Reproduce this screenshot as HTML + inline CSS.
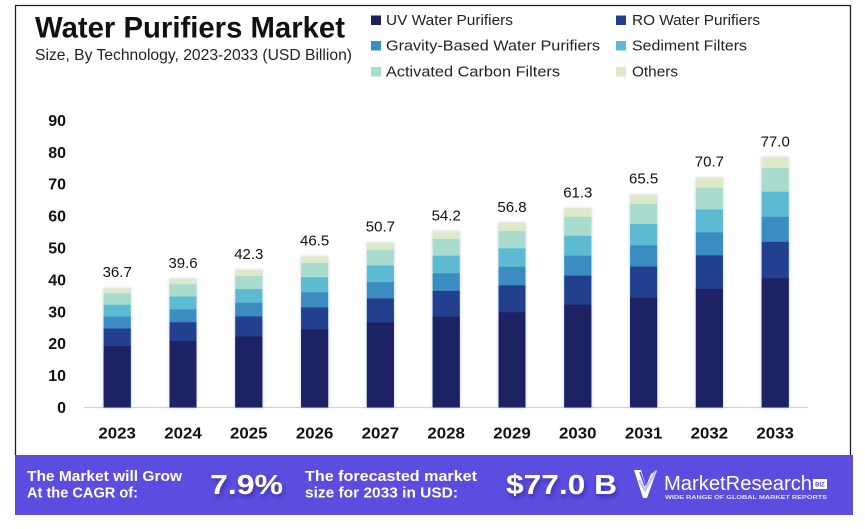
<!DOCTYPE html>
<html>
<head>
<meta charset="utf-8">
<style>
  html, body { margin:0; padding:0; background:#fff; }
  svg { display:block; }
  text { font-family: "Liberation Sans", "DejaVu Sans", sans-serif; }
</style>
</head>
<body>
<svg width="865" height="529" viewBox="0 0 865 529" xmlns="http://www.w3.org/2000/svg">
  <defs>
    <filter id="barsh" x="-30%" y="-10%" width="160%" height="120%">
      <feDropShadow dx="0" dy="0" stdDeviation="1.6" flood-color="#8a94c8" flood-opacity="0.45"/>
    </filter>
    <filter id="txtsh" x="-20%" y="-30%" width="140%" height="170%">
      <feDropShadow dx="1.5" dy="3" stdDeviation="2" flood-color="#2a1d7a" flood-opacity="0.6"/>
    </filter>
  </defs>
  <rect x="0" y="0" width="865" height="529" fill="#ffffff"/>

  <!-- frame -->
  <path d="M15.5 455 V5.5 H850.5 V455" fill="none" stroke="#1e1e1e" stroke-width="1.3"/>

  <!-- title -->
  <text x="35" y="37.5" font-size="30" font-weight="bold" fill="#111" textLength="310" lengthAdjust="spacingAndGlyphs">Water Purifiers Market</text>
  <text x="35" y="60" font-size="16" fill="#222" textLength="317" lengthAdjust="spacingAndGlyphs">Size, By Technology, 2023-2033 (USD Billion)</text>

  <!-- legend -->
  <g font-size="15" fill="#222">
    <rect x="371" y="15.5" width="10" height="9.5" fill="#1b2264"/>
    <text x="386" y="25" textLength="127" lengthAdjust="spacingAndGlyphs">UV Water Purifiers</text>
    <rect x="371" y="41" width="10" height="9.5" fill="#3b8dc1"/>
    <text x="386" y="50.5" textLength="214" lengthAdjust="spacingAndGlyphs">Gravity-Based Water Purifiers</text>
    <rect x="371" y="67" width="10" height="9.5" fill="#a9dccf"/>
    <text x="386" y="76.5" textLength="174" lengthAdjust="spacingAndGlyphs">Activated Carbon Filters</text>

    <rect x="616" y="15.5" width="10" height="9.5" fill="#243f8e"/>
    <text x="632" y="25" textLength="128" lengthAdjust="spacingAndGlyphs">RO Water Purifiers</text>
    <rect x="616" y="41" width="10" height="9.5" fill="#5cbbd3"/>
    <text x="632" y="50.5" textLength="115" lengthAdjust="spacingAndGlyphs">Sediment Filters</text>
    <rect x="616" y="67" width="10" height="9.5" fill="#dde9c8"/>
    <text x="632" y="76.5" textLength="46" lengthAdjust="spacingAndGlyphs">Others</text>
  </g>

  <!-- y axis labels -->
  <g font-size="16" font-weight="bold" fill="#111" text-anchor="end">
    <text x="66" y="413">0</text>
    <text x="66" y="381.1">10</text>
    <text x="66" y="349.2">20</text>
    <text x="66" y="317.3">30</text>
    <text x="66" y="285.4">40</text>
    <text x="66" y="253.5">50</text>
    <text x="66" y="221.6">60</text>
    <text x="66" y="189.7">70</text>
    <text x="66" y="157.8">80</text>
    <text x="66" y="125.9">90</text>
  </g>

  <!-- baseline -->
  <line x1="84" y1="407.5" x2="808" y2="407.5" stroke="#cfd2d8" stroke-width="1.2"/>

  <!-- bars: each segment drawn from its top to the baseline, tallest first -->
  <g filter="url(#barsh)">
    <rect x="103.7" y="288.22" width="27" height="119.28" fill="#dde9c8"/>
    <rect x="103.7" y="293.35" width="27" height="114.15" fill="#a9dccf"/>
    <rect x="103.7" y="304.68" width="27" height="102.82" fill="#5cbbd3"/>
    <rect x="103.7" y="316.61" width="27" height="90.89" fill="#3b8dc1"/>
    <rect x="103.7" y="328.54" width="27" height="78.96" fill="#243f8e"/>
    <rect x="103.7" y="345.95" width="27" height="61.55" fill="#1b2264"/>
  </g>
  <g filter="url(#barsh)">
    <rect x="169.5" y="278.80" width="27" height="128.70" fill="#dde9c8"/>
    <rect x="169.5" y="284.33" width="27" height="123.17" fill="#a9dccf"/>
    <rect x="169.5" y="296.56" width="27" height="110.94" fill="#5cbbd3"/>
    <rect x="169.5" y="309.43" width="27" height="98.07" fill="#3b8dc1"/>
    <rect x="169.5" y="322.30" width="27" height="85.20" fill="#243f8e"/>
    <rect x="169.5" y="341.09" width="27" height="66.41" fill="#1b2264"/>
  </g>
  <g filter="url(#barsh)">
    <rect x="235.3" y="270.03" width="27" height="137.47" fill="#dde9c8"/>
    <rect x="235.3" y="275.93" width="27" height="131.57" fill="#a9dccf"/>
    <rect x="235.3" y="288.99" width="27" height="118.51" fill="#5cbbd3"/>
    <rect x="235.3" y="302.74" width="27" height="104.76" fill="#3b8dc1"/>
    <rect x="235.3" y="316.49" width="27" height="91.01" fill="#243f8e"/>
    <rect x="235.3" y="336.56" width="27" height="70.94" fill="#1b2264"/>
  </g>
  <g filter="url(#barsh)">
    <rect x="301.1" y="256.38" width="27" height="151.12" fill="#dde9c8"/>
    <rect x="301.1" y="262.88" width="27" height="144.62" fill="#a9dccf"/>
    <rect x="301.1" y="277.24" width="27" height="130.26" fill="#5cbbd3"/>
    <rect x="301.1" y="292.35" width="27" height="115.15" fill="#3b8dc1"/>
    <rect x="301.1" y="307.46" width="27" height="100.04" fill="#243f8e"/>
    <rect x="301.1" y="329.52" width="27" height="77.98" fill="#1b2264"/>
  </g>
  <g filter="url(#barsh)">
    <rect x="366.9" y="242.73" width="27" height="164.77" fill="#dde9c8"/>
    <rect x="366.9" y="249.81" width="27" height="157.69" fill="#a9dccf"/>
    <rect x="366.9" y="265.46" width="27" height="142.04" fill="#5cbbd3"/>
    <rect x="366.9" y="281.94" width="27" height="125.56" fill="#3b8dc1"/>
    <rect x="366.9" y="298.42" width="27" height="109.08" fill="#243f8e"/>
    <rect x="366.9" y="322.48" width="27" height="85.02" fill="#1b2264"/>
  </g>
  <g filter="url(#barsh)">
    <rect x="432.7" y="231.35" width="27" height="176.15" fill="#dde9c8"/>
    <rect x="432.7" y="238.92" width="27" height="168.58" fill="#a9dccf"/>
    <rect x="432.7" y="255.65" width="27" height="151.85" fill="#5cbbd3"/>
    <rect x="432.7" y="273.27" width="27" height="134.23" fill="#3b8dc1"/>
    <rect x="432.7" y="290.89" width="27" height="116.61" fill="#243f8e"/>
    <rect x="432.7" y="316.61" width="27" height="90.89" fill="#1b2264"/>
  </g>
  <g filter="url(#barsh)">
    <rect x="498.5" y="222.90" width="27" height="184.60" fill="#dde9c8"/>
    <rect x="498.5" y="230.84" width="27" height="176.66" fill="#a9dccf"/>
    <rect x="498.5" y="248.38" width="27" height="159.12" fill="#5cbbd3"/>
    <rect x="498.5" y="266.84" width="27" height="140.66" fill="#3b8dc1"/>
    <rect x="498.5" y="285.30" width="27" height="122.20" fill="#243f8e"/>
    <rect x="498.5" y="312.25" width="27" height="95.25" fill="#1b2264"/>
  </g>
  <g filter="url(#barsh)">
    <rect x="564.3" y="208.28" width="27" height="199.22" fill="#dde9c8"/>
    <rect x="564.3" y="216.84" width="27" height="190.66" fill="#a9dccf"/>
    <rect x="564.3" y="235.77" width="27" height="171.73" fill="#5cbbd3"/>
    <rect x="564.3" y="255.69" width="27" height="151.81" fill="#3b8dc1"/>
    <rect x="564.3" y="275.61" width="27" height="131.89" fill="#243f8e"/>
    <rect x="564.3" y="304.70" width="27" height="102.80" fill="#1b2264"/>
  </g>
  <g filter="url(#barsh)">
    <rect x="630.1" y="194.63" width="27" height="212.87" fill="#dde9c8"/>
    <rect x="630.1" y="203.78" width="27" height="203.72" fill="#a9dccf"/>
    <rect x="630.1" y="224.00" width="27" height="183.50" fill="#5cbbd3"/>
    <rect x="630.1" y="245.29" width="27" height="162.21" fill="#3b8dc1"/>
    <rect x="630.1" y="266.58" width="27" height="140.92" fill="#243f8e"/>
    <rect x="630.1" y="297.66" width="27" height="109.84" fill="#1b2264"/>
  </g>
  <g filter="url(#barsh)">
    <rect x="695.9" y="177.73" width="27" height="229.77" fill="#dde9c8"/>
    <rect x="695.9" y="187.60" width="27" height="219.90" fill="#a9dccf"/>
    <rect x="695.9" y="209.43" width="27" height="198.07" fill="#5cbbd3"/>
    <rect x="695.9" y="232.41" width="27" height="175.09" fill="#3b8dc1"/>
    <rect x="695.9" y="255.39" width="27" height="152.11" fill="#243f8e"/>
    <rect x="695.9" y="288.94" width="27" height="118.56" fill="#1b2264"/>
  </g>
  <g filter="url(#barsh)">
    <rect x="761.7" y="157.25" width="27" height="250.25" fill="#dde9c8"/>
    <rect x="761.7" y="168.00" width="27" height="239.50" fill="#a9dccf"/>
    <rect x="761.7" y="191.77" width="27" height="215.73" fill="#5cbbd3"/>
    <rect x="761.7" y="216.80" width="27" height="190.70" fill="#3b8dc1"/>
    <rect x="761.7" y="241.83" width="27" height="165.67" fill="#243f8e"/>
    <rect x="761.7" y="278.37" width="27" height="129.13" fill="#1b2264"/>
  </g>

  <!-- value labels -->
  <g font-size="15" fill="#111" text-anchor="middle">
    <text x="117.2" y="277.2">36.7</text>
    <text x="183.0" y="267.8">39.6</text>
    <text x="248.8" y="259.0">42.3</text>
    <text x="314.6" y="245.4">46.5</text>
    <text x="380.4" y="231.7">50.7</text>
    <text x="446.2" y="220.4">54.2</text>
    <text x="512.0" y="211.9">56.8</text>
    <text x="577.8" y="197.3">61.3</text>
    <text x="643.6" y="183.6">65.5</text>
    <text x="709.4" y="166.7">70.7</text>
    <text x="775.2" y="146.3">77.0</text>
  </g>

  <!-- x labels -->
  <g font-size="16" font-weight="bold" fill="#111" text-anchor="middle">
    <text x="117.2" y="438.5" textLength="37.5" lengthAdjust="spacingAndGlyphs">2023</text>
    <text x="183.0" y="438.5" textLength="37.5" lengthAdjust="spacingAndGlyphs">2024</text>
    <text x="248.8" y="438.5" textLength="37.5" lengthAdjust="spacingAndGlyphs">2025</text>
    <text x="314.6" y="438.5" textLength="37.5" lengthAdjust="spacingAndGlyphs">2026</text>
    <text x="380.4" y="438.5" textLength="37.5" lengthAdjust="spacingAndGlyphs">2027</text>
    <text x="446.2" y="438.5" textLength="37.5" lengthAdjust="spacingAndGlyphs">2028</text>
    <text x="512.0" y="438.5" textLength="37.5" lengthAdjust="spacingAndGlyphs">2029</text>
    <text x="577.8" y="438.5" textLength="37.5" lengthAdjust="spacingAndGlyphs">2030</text>
    <text x="643.6" y="438.5" textLength="37.5" lengthAdjust="spacingAndGlyphs">2031</text>
    <text x="709.4" y="438.5" textLength="37.5" lengthAdjust="spacingAndGlyphs">2032</text>
    <text x="775.2" y="438.5" textLength="37.5" lengthAdjust="spacingAndGlyphs">2033</text>
  </g>

  <!-- banner -->
  <rect x="15" y="455" width="838" height="60" fill="#5b4de0"/>
  <g fill="#ffffff" font-weight="bold">
    <text x="27" y="481" font-size="15" textLength="155" lengthAdjust="spacingAndGlyphs">The Market will Grow</text>
    <text x="27" y="497.5" font-size="15" textLength="111" lengthAdjust="spacingAndGlyphs">At the CAGR of:</text>
    <text x="210" y="494" font-size="28" textLength="73" lengthAdjust="spacingAndGlyphs" filter="url(#txtsh)">7.9%</text>
    <text x="305" y="481" font-size="15" textLength="172" lengthAdjust="spacingAndGlyphs">The forecasted market</text>
    <text x="305" y="497.5" font-size="15" textLength="153" lengthAdjust="spacingAndGlyphs">size for 2033 in USD:</text>
    <text x="506" y="494" font-size="28" textLength="111" lengthAdjust="spacingAndGlyphs" filter="url(#txtsh)">$77.0 B</text>
  </g>

  <!-- logo icon -->
  <g>
    <path d="M634 470 L641 470 L646 486 L651 474 L657 470 L647 498 L643 498 Z" fill="#ffffff"/>
    <path d="M639 480 L645 490 L656 471" fill="none" stroke="#c8c0f5" stroke-width="2.5"/>
    <path d="M640 472 L645 486" fill="none" stroke="#5b4de0" stroke-width="1.5"/>
  </g>
  <text x="664" y="490" font-size="20" fill="#ffffff" textLength="148" lengthAdjust="spacingAndGlyphs">MarketResearch</text>
  <rect x="813" y="479" width="14" height="10" fill="#ffffff"/>
  <text x="820" y="486.5" font-size="6" font-weight="bold" fill="#5b4de0" text-anchor="middle">BIZ</text>
  <text x="665" y="499" font-size="5" font-weight="bold" fill="#e6e2ff" textLength="162" lengthAdjust="spacingAndGlyphs">WIDE RANGE OF GLOBAL MARKET REPORTS</text>
</svg>
</body>
</html>
